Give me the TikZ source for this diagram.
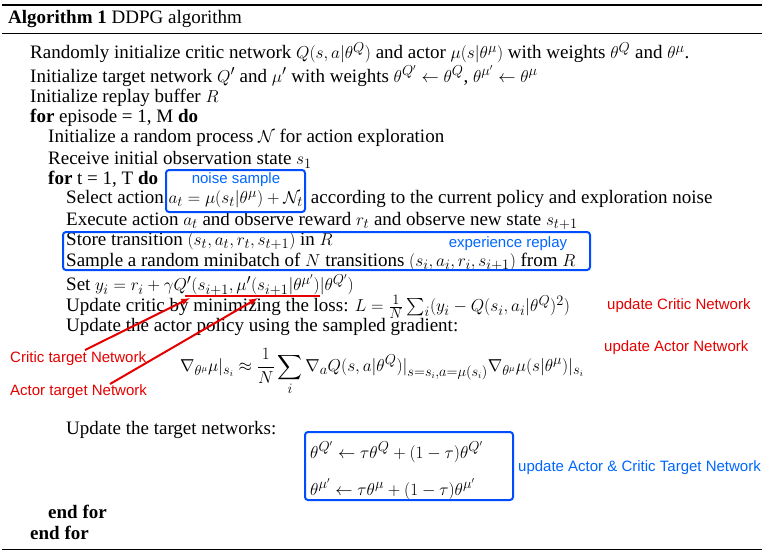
\documentclass[tikz,border=0pt]{standalone}
\usepackage{amsmath}
\usepackage{fontspec}
\setmainfont{Liberation Serif}
\newfontfamily\lab{Liberation Sans}
\begin{document}
\begin{tikzpicture}[x=1pt,y=-1pt,
  ln/.style={anchor=west,inner sep=0pt,font=\fontsize{19}{22}\selectfont},
  bl/.style={draw=blue!70!cyan,line width=2pt,rounded corners=3pt},
  bt/.style={text=blue!60!cyan,font=\lab\fontsize{15}{17}\selectfont,inner sep=0pt},
  rt/.style={text=red!90!black,font=\lab\fontsize{15}{17}\selectfont,inner sep=0pt,anchor=west},
  ra/.style={draw=red!90!black,line width=2pt,-latex}]
\useasboundingbox (0,0) rectangle (764,555);
\draw[line width=1.2pt] (2,5) -- (762,5);
\draw[line width=0.6pt] (2,33) -- (762,33);
\draw[line width=0.6pt] (2,549) -- (762,549);
\node[ln] (t) at (8,19) {\textbf{Algorithm 1} DDPG algorithm};
\node[ln] (l1) at (30,53) {Randomly initialize critic network $Q(s,a|\theta^Q)$ and actor $\mu(s|\theta^{\mu})$ with weights $\theta^Q$ and $\theta^{\mu}$.};
\node[ln] (l2) at (30,76) {Initialize target network $Q'$ and $\mu'$ with weights $\theta^{Q'}\leftarrow\theta^Q$, $\theta^{\mu'}\leftarrow\theta^{\mu}$};
\node[ln] (l3) at (30,98) {Initialize replay buffer $R$};
\node[ln] (l4) at (30,118) {\textbf{for} episode = 1, M \textbf{do}};
\node[ln] (l5) at (48,138) {Initialize a random process $\mathcal{N}$ for action exploration};
\node[ln] (l6) at (48,160) {Receive initial observation state $s_1$};
\node[ln] (l7) at (48,179) {\textbf{for} t = 1, T \textbf{do}};
\node[ln] (l8) at (66,199) {Select action $a_t=\mu(s_t|\theta^{\mu})+\mathcal{N}_t$\, according to the current policy and exploration noise};
\node[ln] (l9) at (66,221) {Execute action $a_t$ and observe reward $r_t$ and observe new state $s_{t+1}$};
\node[ln] (l10) at (66,241) {Store transition $(s_t,a_t,r_t,s_{t+1})$ in $R$};
\node[ln] (l11) at (66,262) {Sample a random minibatch of $N$ transitions $(s_i,a_i,r_i,s_{i+1})$ from $R$};
\node[ln] (l12) at (66,285) {Set $y_i=r_i+\gamma Q'(s_{i+1},\mu'(s_{i+1}|\theta^{\mu'})|\theta^{Q'})$};
\node[ln] (l13) at (66,307) {Update critic by minimizing the loss: $L=\frac{1}{N}\sum_i(y_i-Q(s_i,a_i|\theta^Q)^2)$};
\node[ln] (l14) at (66,327) {Update the actor policy using the sampled gradient:};
\node[ln] (eq) at (180,372) {$\displaystyle \nabla_{\theta^{\mu}}\mu|_{s_i}\approx\frac{1}{N}\sum_i\nabla_aQ(s,a|\theta^Q)|_{s=s_i,a=\mu(s_i)}\nabla_{\theta^{\mu}}\mu(s|\theta^{\mu})|_{s_i}$};
\node[ln] (l15) at (66,430) {Update the target networks:};
\node[ln] (e1) at (310,452) {$\theta^{Q'}\leftarrow\tau\theta^Q+(1-\tau)\theta^{Q'}$};
\node[ln] (e2) at (310,489) {$\theta^{\mu'}\leftarrow\tau\theta^{\mu}+(1-\tau)\theta^{\mu'}$};
\node[ln] (l16) at (48,512) {\textbf{end for}};
\node[ln] (l17) at (30,533) {\textbf{end for}};
% blue boxes
\draw[bl] (166,170) rectangle (305,212);
\node[bt] (ns) at (236,180) {noise sample};
\draw[bl] (63,232) rectangle (590,270);
\node[bt] (er) at (508,244) {experience replay};
\draw[bl] (305,432) rectangle (513,500);
\node[bt,anchor=west] (ut) at (518,468) {update Actor \& Critic Target Network};
% red
\draw[red!90!black,line width=2pt] (185,296) -- (320,296);
\node[rt] (uc) at (607,306) {update Critic Network};
\node[rt] (ua) at (604,348) {update Actor Network};
\node[rt] (ct) at (10,359) {Critic target Network};
\node[rt] (at) at (10,392) {Actor target Network};
\coordinate (cte) at (190,298);
\coordinate (ate) at (258,298);
\draw[ra] (85,350) -- (cte);
\draw[ra] (110,384) -- (ate);
\end{tikzpicture}
\end{document}
